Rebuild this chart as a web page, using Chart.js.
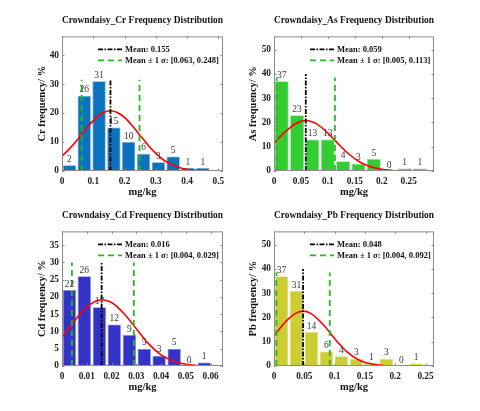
<!DOCTYPE html>
<html><head><meta charset="utf-8">
<script src="https://cdn.jsdelivr.net/npm/chart.js@4/dist/chart.umd.min.js"></script>
<style>
html,body{margin:0;padding:0;background:#fff;}
body{width:480px;height:411px;position:relative;overflow:hidden;}
canvas{position:absolute;}
</style></head>
<body>
<canvas id="cCr" style="left:0;top:0"></canvas>
<canvas id="cAs" style="left:240px;top:0"></canvas>
<canvas id="cCd" style="left:0;top:205px"></canvas>
<canvas id="cPb" style="left:240px;top:205px"></canvas>
<script>
// ---------------- DATA ----------------
const crBinCenters = [0.0237,0.0711,0.1185,0.1659,0.2133,0.2607,0.3081,0.3555,0.4029,0.4503];
const crCounts     = [2,26,31,15,10,6,3,5,1,1];
const crStats      = [0.155,0.063,0.248];           // mean, mean-σ, mean+σ
const crLineTops   = [31.5,31.5];                   // mean line top, σ line top
const crCurveX = [0,0.025,0.05,0.075,0.1,0.125,0.155,0.175,0.2,0.225,0.25,0.275,0.3,0.325,0.35,0.375,0.4,0.43];
const crCurveY = [5.1,7.8,10.9,14.3,17.4,19.7,20.8,20.3,18.5,15.6,12.3,9.0,6.1,3.8,2.3,1.2,0.6,0.25];
const crXTicks = [0,0.1,0.2,0.3,0.4,0.5];
const crYTicks = [0,10,20,30,40];

const asBinCenters = [0.0143,0.0428,0.0713,0.0998,0.1283,0.1568,0.1853,0.2138,0.2423,0.2708];
const asCounts     = [37,23,13,13,4,3,5,0,1,1];
const asStats      = [0.059,0.005,0.113];
const asLineTops   = [40,38.5];
const asCurveX = [0,0.02,0.04,0.059,0.08,0.1,0.12,0.14,0.16,0.18,0.2,0.22];
const asCurveY = [11.4,16.0,19.5,20.8,19.3,15.6,11.0,6.8,3.6,1.7,0.7,0.25];
const asXTicks = [0,0.05,0.1,0.15,0.2,0.25];
const asYTicks = [0,10,20,30,40,50];

const cdBinCenters = [0.0030,0.0090,0.0151,0.0211,0.0272,0.0332,0.0392,0.0453,0.0513,0.0574];
const cdCounts     = [22,26,17,12,9,5,3,5,0,1];
const cdStats      = [0.016,0.004,0.029];
const cdLineTops   = [30,30];
const cdCurveX = [0,0.005,0.01,0.016,0.02,0.025,0.03,0.035,0.04,0.045,0.05,0.054];
const cdCurveY = [8.3,13.0,17.1,19.2,18.4,15.2,10.8,6.4,3.2,1.4,0.5,0.2];
const cdXTicks = [0,0.01,0.02,0.03,0.04,0.05,0.06];
const cdYTicks = [0,5,10,15,20,25,30,35];

const pbBinCenters = [0.0124,0.0371,0.0618,0.0865,0.1112,0.1359,0.1606,0.1853,0.2100,0.2347];
const pbCounts     = [37,31,14,6,4,3,1,3,0,1];
const pbStats      = [0.048,0.004,0.092];
const pbLineTops   = [40,38.5];
const pbCurveX = [0,0.02,0.035,0.048,0.06,0.08,0.1,0.12,0.14,0.16,0.18];
const pbCurveY = [12.5,18.5,21.6,22.6,21.8,17.4,11.3,5.9,2.5,0.9,0.25];
const pbXTicks = [0,0.05,0.1,0.15,0.2,0.25];
const pbYTicks = [0,10,20,30,40,50];

// ---------------- HELPERS ----------------
const SERIF = '"Liberation Serif","Times New Roman",serif';
const AXIS_GRAY = '#8c8c8c';

const boxPlugin = {
  id:'boxTicks',
  afterDatasetsDraw(chart){
    const {ctx, chartArea:a, scales:{x,y}} = chart;
    ctx.save();
    ctx.strokeStyle = AXIS_GRAY; ctx.lineWidth = 1; ctx.setLineDash([]);
    ctx.strokeRect(a.left+0.5, a.top+0.5, a.right-a.left-1, a.bottom-a.top-1);
    const tl = 2.5;
    ctx.beginPath();
    x.ticks.forEach(t=>{ const px = Math.round(x.getPixelForValue(t.value))+0.5;
      ctx.moveTo(px,a.bottom); ctx.lineTo(px,a.bottom-tl);
      ctx.moveTo(px,a.top); ctx.lineTo(px,a.top+tl); });
    y.ticks.forEach(t=>{ const py = Math.round(y.getPixelForValue(t.value))+0.5;
      ctx.moveTo(a.left,py); ctx.lineTo(a.left+tl,py);
      ctx.moveTo(a.right,py); ctx.lineTo(a.right-tl,py); });
    ctx.stroke();
    ctx.restore();
  }
};

const barLabelPlugin = {
  id:'barLabels',
  afterDatasetsDraw(chart){
    const {ctx} = chart;
    const meta = chart.getDatasetMeta(0);
    const ds = chart.data.datasets[0];
    ctx.save();
    ctx.font = '9.5px '+SERIF; ctx.fillStyle = '#3a3a3a';
    ctx.textAlign = 'center'; ctx.textBaseline = 'bottom';
    meta.data.forEach((bar,i)=>{ ctx.fillText(String(ds.data[i].y), bar.x, bar.y-1); });
    ctx.restore();
  }
};

const legendPlugin = {
  id:'innerLegend',
  afterDraw(chart){
    const {ctx, chartArea:a} = chart;
    const items = chart.data.datasets.filter(d=>d.legendText);
    ctx.save();
    ctx.font = 'bold 8.5px '+SERIF; ctx.textBaseline = 'middle'; ctx.textAlign='left';
    items.forEach((d,i)=>{
      const yy = a.top + 13 + i*11;
      const x0 = a.left + 36;
      ctx.strokeStyle = d.borderColor; ctx.lineWidth = d.borderWidth;
      ctx.setLineDash(d.borderDash||[]);
      ctx.beginPath(); ctx.moveTo(x0,yy); ctx.lineTo(x0+24,yy); ctx.stroke();
      ctx.setLineDash([]);
      ctx.fillStyle = '#111';
      ctx.fillText(d.legendText, x0+27, yy);
    });
    ctx.restore();
  }
};

function makeChart(id, cfg){
  const cv = document.getElementById(id);
  cv.width = cfg.w; cv.height = cfg.h;
  cv.style.width = cfg.w+'px'; cv.style.height = cfg.h+'px';
  const vline = (xv, top, color, dash, label)=>({
    type:'line', data:[{x:xv,y:0},{x:xv,y:top}], borderColor:color, borderWidth:1.8,
    borderDash:dash, pointRadius:0, fill:false, legendText:label, order:1
  });
  const datasets = [
    { type:'bar', data: cfg.centers.map((c,i)=>({x:c,y:cfg.counts[i]})),
      backgroundColor: cfg.color, borderColor: cfg.edge, borderWidth:0.8,
      barPercentage:0.9, categoryPercentage:1.0, order:3 },
    { type:'line', data: cfg.curveX.map((xv,i)=>({x:xv,y:cfg.curveY[i]})),
      borderColor:'#ff0000', borderWidth:1.6, pointRadius:0, fill:false,
      cubicInterpolationMode:'monotone', order:2 },
    vline(cfg.stats[0], cfg.tops[0], '#000000', [5,1.5,1.5,1.5], 'Mean: '+cfg.stats[0].toFixed(3)),
    vline(cfg.stats[1], cfg.tops[1], '#22bb22', [6,4], 'Mean \u00b1 1 \u03c3: ['+cfg.stats[1].toFixed(3)+', '+cfg.stats[2].toFixed(3)+']'),
    vline(cfg.stats[2], cfg.tops[1], '#22bb22', [6,4], null)
  ];
  return new Chart(cv, {
    data:{datasets},
    plugins:[boxPlugin, barLabelPlugin, legendPlugin],
    options:{
      responsive:false, animation:false, devicePixelRatio:1,
      layout:{padding:cfg.pad},
      plugins:{
        legend:{display:false}, tooltip:{enabled:false},
        title:{display:true, text:cfg.title, fullSize:false, color:'#111',
          font:{family:SERIF, size:9.8, weight:'bold'}, padding:cfg.titlePad}
      },
      scales:{
        x:{type:'linear', min:0, max:cfg.xmax, offset:false,
          afterBuildTicks(s){ s.ticks = cfg.xticks.map(v=>({value:v})); },
          afterFit(s){ s.height = 30; },
          grid:{display:false, drawTicks:false}, border:{display:false},
          ticks:{color:'#222', padding:5, maxRotation:0, autoSkip:false,
            font:{family:SERIF, size:9.3, weight:'bold'}, callback:v=>String(v)},
          title:{display:true, text:'mg/kg', color:'#111', padding:{top:0,bottom:2},
            font:{family:SERIF, size:10.5, weight:'bold'}}
        },
        y:{type:'linear', min:0, max:cfg.ymax,
          afterBuildTicks(s){ s.ticks = cfg.yticks.map(v=>({value:v})); },
          afterFit(s){ s.width = 30; },
          grid:{display:false, drawTicks:false}, border:{display:false},
          ticks:{color:'#222', padding:3, autoSkip:false,
            font:{family:SERIF, size:9.3, weight:'bold'}, callback:v=>String(v)},
          title:{display:true, text:cfg.ylabel, color:'#111', padding:{top:cfg.ytp,bottom:0},
            font:{family:SERIF, size:10.5, weight:'bold'}}
        }
      }
    }
  });
}

makeChart('cCr',{w:240,h:205, title:'Crowndaisy_Cr Frequency Distribution', ylabel:'Cr frequency/ %',
  centers:crBinCenters, counts:crCounts, stats:crStats, tops:crLineTops, curveX:crCurveX, curveY:crCurveY,
  xticks:crXTicks, yticks:crYTicks, xmax:0.515, ymax:46.5, color:'#0d72bd', edge:'#6fa8d6',
  pad:{left:32,right:17,top:0,bottom:4}, titlePad:{top:14.5,bottom:10.1}, ytp:4});
makeChart('cAs',{w:240,h:205, title:'Crowndaisy_As Frequency Distribution', ylabel:'As frequency/ %',
  centers:asBinCenters, counts:asCounts, stats:asStats, tops:asLineTops, curveX:asCurveX, curveY:asCurveY,
  xticks:asXTicks, yticks:asYTicks, xmax:0.297, ymax:55.5, color:'#33cc33', edge:'#8ee08e',
  pad:{left:4,right:46,top:0,bottom:4}, titlePad:{top:14.5,bottom:10.1}, ytp:3});
makeChart('cCd',{w:240,h:206, title:'Crowndaisy_Cd Frequency Distribution', ylabel:'Cd frequency/ %',
  centers:cdBinCenters, counts:cdCounts, stats:cdStats, tops:cdLineTops, curveX:cdCurveX, curveY:cdCurveY,
  xticks:cdXTicks, yticks:cdYTicks, xmax:0.065, ymax:39, color:'#3333c8', edge:'#8c8ce0',
  pad:{left:32,right:17,top:0,bottom:15}, titlePad:{top:4.5,bottom:10.1}, ytp:4});
makeChart('cPb',{w:240,h:206, title:'Crowndaisy_Pb Frequency Distribution', ylabel:'Pb frequency/ %',
  centers:pbBinCenters, counts:pbCounts, stats:pbStats, tops:pbLineTops, curveX:pbCurveX, curveY:pbCurveY,
  xticks:pbXTicks, yticks:pbYTicks, xmax:0.264, ymax:55.5, color:'#cccc33', edge:'#e2e28c',
  pad:{left:4,right:46,top:0,bottom:15}, titlePad:{top:4.5,bottom:10.1}, ytp:3});
</script>
</body></html>
